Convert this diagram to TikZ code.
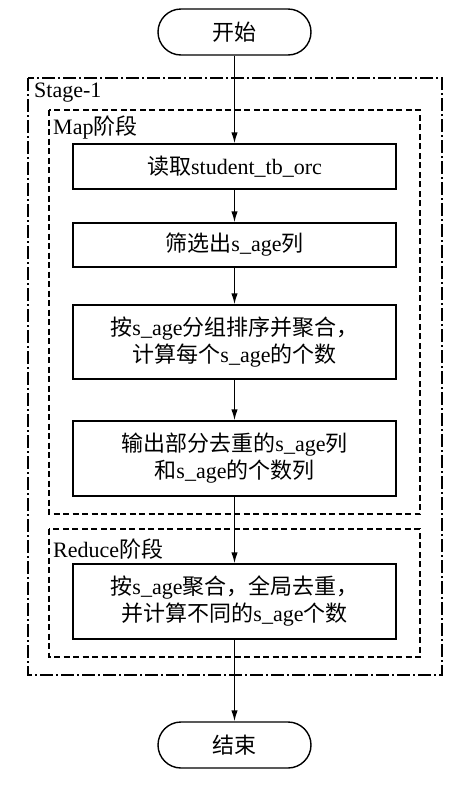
\documentclass[tikz,border=0pt]{standalone}
\usepackage{fontspec}
\setmainfont{Liberation Serif}
\newfontfamily\cjk{Noto Sans CJK SC}
\usetikzlibrary{arrows.meta}
\begin{document}
\begin{tikzpicture}[x=1pt,y=-1pt,
  every node/.style={font=\fontsize{22}{27}\selectfont},
  procbox/.style={draw, line width=1.4pt, minimum width=323pt, inner sep=0pt, align=center},
  term/.style={draw, line width=1.4pt, rounded corners=23pt, minimum width=153pt, minimum height=46pt, inner sep=0pt},
  arr/.style={-{Latex[length=11pt,width=6.5pt]}, line width=1.4pt},
  frameA/.style={line width=1.4pt, dash pattern=on 13pt off 3pt on 2pt off 3pt},
  frameB/.style={line width=1.4pt, dash pattern=on 6pt off 3.5pt},
  lab/.style={anchor=west, inner sep=0pt}]
\useasboundingbox (0,0) rectangle (453,785);
\fill[white] (0,0) rectangle (453,785);

\draw[frameA] (28,78) rectangle (442,675);
\draw[frameB] (49,110) rectangle (420,514);
\draw[frameB] (49,529) rectangle (420,657);

\node[lab] (stage) at (34,93) {Stage-1};
\node[lab] (map) at (53,128) {Map{\cjk 阶段}};
\node[lab] (red) at (53,549) {Reduce{\cjk 阶段}};

\node[term] (start) at (234.5,32) {\cjk 开始};
\node[procbox, minimum height=45pt] (b1) at (234.5,166.5) {{\cjk 读取}student\_tb\_orc};
\node[procbox, minimum height=44pt] (b2) at (234.5,245) {{\cjk 筛选出}s\_age{\cjk 列}};
\node[procbox, minimum height=74pt] (b3) at (234.5,342) {{\cjk 按}s\_age{\cjk 分组排序并聚合，}\\{\cjk 计算每个}s\_age{\cjk 的个数}};
\node[procbox, minimum height=75pt] (b4) at (234.5,458.5) {{\cjk 输出部分去重的}s\_age{\cjk 列}\\{\cjk 和}s\_age{\cjk 的个数列}};
\node[procbox, minimum height=75pt] (b5) at (234.5,601.5) {{\cjk 按}s\_age{\cjk 聚合，全局去重，}\\{\cjk 并计算不同的}s\_age{\cjk 个数}};
\node[term] (end) at (234.5,745) {\cjk 结束};

\draw[arr] (start) -- (b1);
\draw[arr] (b1) -- (b2);
\draw[arr] (b2) -- (b3);
\draw[arr] (b3) -- (b4);
\draw[arr] (b4) -- (b5);
\draw[arr] (b5) -- (end);
\end{tikzpicture}
\end{document}
